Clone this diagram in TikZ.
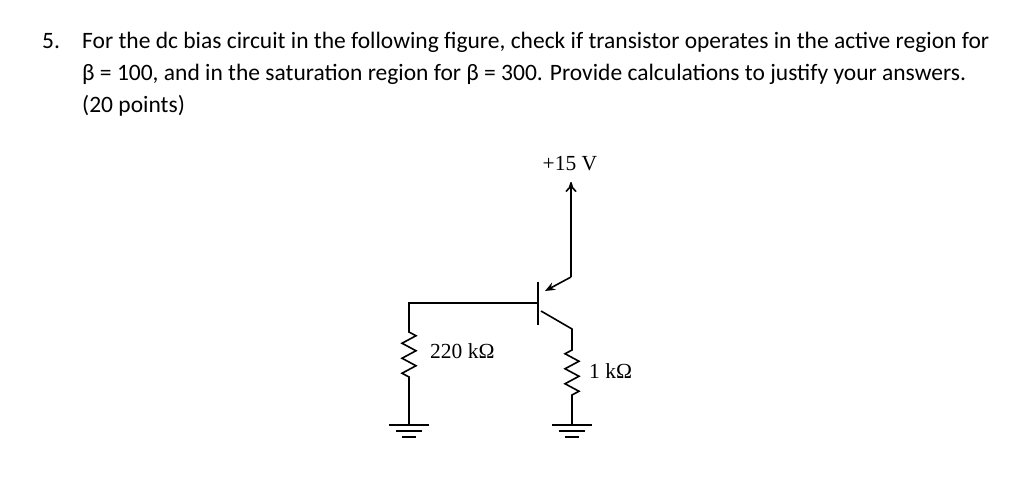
\documentclass[tikz,border=0pt]{standalone}
\usepackage{fontspec}
\setmainfont{Carlito}
\newfontfamily\serifl{Liberation Serif}
\usetikzlibrary{arrows.meta}
\begin{document}
\begin{tikzpicture}[x=1pt,y=-1pt,
  txt/.style={anchor=base west,inner sep=0pt,font=\fontsize{23.5}{28}\selectfont},
  lbl/.style={inner sep=0pt,font=\serifl\fontsize{21.5}{25}\selectfont},
  wire/.style={line width=1.6pt}]
\useasboundingbox (0,0) rectangle (1024,497);
\node[txt] (n5) at (42,49) {5.};
\node[txt] (l1) at (82,49) {For the dc bias circuit in the following figure, check if transistor operates in the active region for};
\node[txt] (l2) at (82,81) {β = 100, and in the saturation region for β = 300. Provide calculations to justify your answers.};
\node[txt] (l3) at (82,113) {(20 points)};
\node[lbl] (vcc) at (570,164) {+15 V};
\coordinate (tip) at (571,182);
\coordinate (E) at (571,277);
\coordinate (bt) at (538,282);
\coordinate (bb) at (538,325);
\coordinate (B) at (538,303);
\coordinate (BL) at (409,303);
\coordinate (Cs) at (541,311);
\coordinate (Cc) at (572,329);
\draw[wire,-{To[length=10pt,width=11pt]}] (E) -- (tip);
\draw[line width=2.6pt] (bt) -- (bb);
\draw[wire,-{Stealth[length=10pt,width=8pt]}] (E) -- (545,291);
\draw[wire] (B) -- (BL) -- (409,332)
  -- ++(7,3.75) -- ++(-14,7.5) -- ++(14,7.5) -- ++(-14,7.5) -- ++(14,7.5) -- ++(-14,7.5) -- ++(7,3.75) -- (409,425);
\draw[wire] (Cs) -- (Cc) -- (572,350)
  -- ++(-7,3.75) -- ++(14,7.5) -- ++(-14,7.5) -- ++(14,7.5) -- ++(-14,7.5) -- ++(14,7.5) -- ++(-7,3.75) -- (572,425);
\foreach \x in {409,572}{
  \draw[wire] (\x-20,425) -- (\x+20,425);
  \draw[wire] (\x-13,431) -- (\x+13,431);
  \draw[wire] (\x-7,437) -- (\x+7,437);
}
\node[lbl,anchor=west] (r1) at (430,351) {220 kΩ};
\node[lbl,anchor=west] (r2) at (589,371) {1 kΩ};
\end{tikzpicture}
\end{document}
